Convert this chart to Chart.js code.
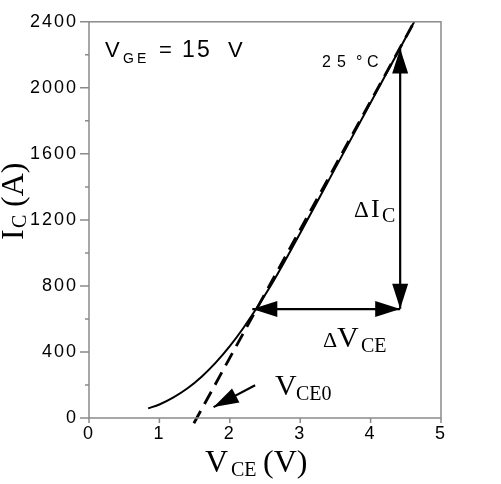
<!DOCTYPE html>
<html>
<head>
<meta charset="utf-8">
<script src="https://cdn.jsdelivr.net/npm/chart.js@4.4.1/dist/chart.umd.min.js"></script>
<style>
  body { margin: 0; background: #fff; }
</style>
</head>
<body>
<canvas id="myChart" width="501" height="484"></canvas>
<script>
"use strict"

// output characteristic, 25 °C, VGE = 15 V
const curveV = [0.84, 1.0, 1.2, 1.4, 1.6, 1.8, 2.0, 2.2, 2.4, 2.6, 2.8, 3.6, 4.62];
const curveI = [58, 82, 125, 180, 250, 335, 435, 550, 678, 815, 965, 1594, 2400];

// dashed tangent line (VCE0 intercept)
const tangentV = [1.49, 4.62];
const tangentI = [-32, 2400];

// arrows
const deltaIcV = [4.42, 4.42];
const deltaIcI = [662, 2238];
const deltaVceV = [2.32, 4.42];
const deltaVceI = [660, 660];
const vce0ArrowV = [2.36, 1.77];
const vce0ArrowI = [198, 66];

const xTicks = [0, 1, 2, 3, 4, 5];
const yTicks = [0, 400, 800, 1200, 1600, 2000, 2400];

const sans = '"Liberation Sans", Arial, sans-serif';
const serif = '"Liberation Serif", "Times New Roman", serif';
const axisGray = "#8a8a8a";

const ctx = document.getElementById('myChart');

function toPoints(xs, ys) {
    return xs.map((x, i) => ({ x: x, y: ys[i] }));
}

function drawParts(c, x, y, parts) {
    parts.forEach(p => {
        c.font = p.font;
        c.fillText(p.t, x + p.dx, y + (p.dy || 0));
    });
}

function arrowHead(c, tx, ty, fx, fy) {
    const len = 25, w = 8;
    const a = Math.atan2(ty - fy, tx - fx);
    c.beginPath();
    c.moveTo(tx, ty);
    c.lineTo(tx - len * Math.cos(a) + w * Math.sin(a), ty - len * Math.sin(a) - w * Math.cos(a));
    c.lineTo(tx - len * Math.cos(a) - w * Math.sin(a), ty - len * Math.sin(a) + w * Math.cos(a));
    c.closePath();
    c.fill();
}

function drawArrow(c, xs, ys, sx, sy, both) {
    const x0 = sx.getPixelForValue(xs[0]), y0 = sy.getPixelForValue(ys[0]);
    const x1 = sx.getPixelForValue(xs[1]), y1 = sy.getPixelForValue(ys[1]);
    c.beginPath();
    c.moveTo(x0, y0);
    c.lineTo(x1, y1);
    c.stroke();
    arrowHead(c, x1, y1, x0, y0);
    if (both) arrowHead(c, x0, y0, x1, y1);
}

const extras = {
    id: 'extras',
    beforeDraw(chart) {
        // the scanned tick labels are a bit spaced out
        chart.ctx.letterSpacing = "2px";
    },
    afterDraw(chart) {
        const c = chart.ctx;
        const a = chart.chartArea;
        const sx = chart.scales.x, sy = chart.scales.y;
        c.save();
        c.letterSpacing = "0px";

        // frame
        c.strokeStyle = axisGray;
        c.lineWidth = 1.5;
        c.strokeRect(a.left, a.top, a.right - a.left, a.bottom - a.top);

        // tick marks
        c.beginPath();
        sy.ticks.forEach(t => {
            const y = sy.getPixelForValue(t.value);
            const len = yTicks.includes(t.value) ? 9 : 4;
            c.moveTo(a.left - len, y);
            c.lineTo(a.left, y);
        });
        sx.ticks.forEach(t => {
            const x = sx.getPixelForValue(t.value);
            c.moveTo(x, a.bottom);
            c.lineTo(x, a.bottom + 5);
        });
        c.stroke();

        // arrows
        c.strokeStyle = "#000";
        c.fillStyle = "#000";
        c.lineWidth = 2.2;
        drawArrow(c, deltaIcV, deltaIcI, sx, sy, true);
        drawArrow(c, deltaVceV, deltaVceI, sx, sy, true);
        drawArrow(c, vce0ArrowV, vce0ArrowI, sx, sy, false);

        // texts
        c.textAlign = "left";
        c.textBaseline = "alphabetic";
        drawParts(c, 105, 57, [
            { t: "V", font: "22px " + sans, dx: 0 },
            { t: "G", font: "14px " + sans, dx: 18, dy: 6 },
            { t: "E", font: "14px " + sans, dx: 32, dy: 6 },
            { t: "=", font: "22px " + sans, dx: 54 },
            { t: "1", font: "23px " + sans, dx: 77 },
            { t: "5", font: "23px " + sans, dx: 92 },
            { t: "V", font: "22px " + sans, dx: 123 }
        ]);
        drawParts(c, 322, 67, [
            { t: "2", font: "16px " + sans, dx: 0 },
            { t: "5", font: "16px " + sans, dx: 15 },
            { t: "°", font: "16px " + sans, dx: 34 },
            { t: "C", font: "16px " + sans, dx: 45 }
        ]);
        drawParts(c, 354, 217, [
            { t: "Δ", font: "23px " + serif, dx: 0 },
            { t: "I", font: "26px " + serif, dx: 17 },
            { t: "C", font: "20px " + serif, dx: 28, dy: 5 }
        ]);
        drawParts(c, 323, 347, [
            { t: "Δ", font: "22px " + serif, dx: 0 },
            { t: "V", font: "30px " + serif, dx: 14 },
            { t: "CE", font: "20px " + serif, dx: 38, dy: 5 }
        ]);
        drawParts(c, 275, 395, [
            { t: "V", font: "30px " + serif, dx: 0 },
            { t: "CE0", font: "20px " + serif, dx: 21, dy: 5 }
        ]);
        // axis titles
        drawParts(c, 205, 472, [
            { t: "V", font: "32px " + serif, dx: 0 },
            { t: "CE", font: "20px " + serif, dx: 26, dy: 4 },
            { t: "(V)", font: "32px " + serif, dx: 58 }
        ]);
        c.translate(23, 240);
        c.rotate(-Math.PI / 2);
        drawParts(c, 0, 0, [
            { t: "I", font: "32px " + serif, dx: 0 },
            { t: "C", font: "20px " + serif, dx: 12, dy: 3 },
            { t: "(A)", font: "32px " + serif, dx: 33 }
        ]);
        c.restore();
    }
};

new Chart(ctx, {
    type: 'scatter',
    data: {
        datasets: [{
            label: '25 °C',
            data: toPoints(curveV, curveI),
            showLine: true,
            borderColor: "#000",
            borderWidth: 2,
            pointRadius: 0,
            cubicInterpolationMode: 'monotone',
        }, {
            label: 'tangent',
            data: toPoints(tangentV, tangentI),
            showLine: true,
            borderColor: "#000",
            borderWidth: 2.8,
            borderDash: [14, 8],
            pointRadius: 0,
            clip: false,
        }]
    },
    options: {
        responsive: false,
        animation: false,
        layout: {
            padding: { top: 18, right: 60, left: 0, bottom: 0 }
        },
        plugins: {
            legend: { display: false },
            tooltip: { enabled: false },
        },
        scales: {
            x: {
                type: 'linear',
                min: 0,
                max: 5,
                afterFit(s) { s.height = 66 },
                grid: { display: false, drawTicks: false },
                border: { display: false },
                ticks: {
                    stepSize: 1,
                    padding: 5,
                    color: "#000",
                    font: { size: 18, family: sans },
                },
            },
            y: {
                min: 0,
                max: 2400,
                afterFit(s) { s.width = 89 },
                grid: { display: false, drawTicks: false },
                border: { display: false },
                ticks: {
                    stepSize: 200,
                    padding: 11,
                    color: "#000",
                    font: { size: 18, family: sans },
                    callback: v => yTicks.includes(v) ? v : '',
                },
            },
        },
    },
    plugins: [extras]
})
</script>
</body>
</html>
